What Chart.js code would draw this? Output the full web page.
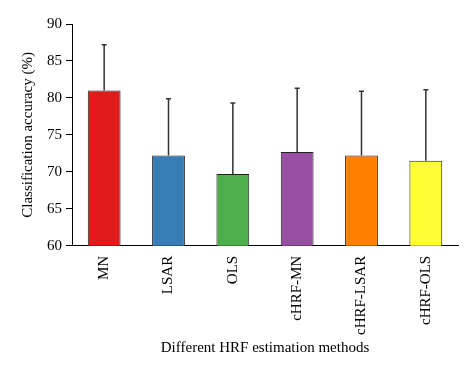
<!DOCTYPE html>
<html>
<head>
<meta charset="utf-8">
<script src="https://cdn.jsdelivr.net/npm/chart.js@4/dist/chart.umd.min.js"></script>
<style>
  html, body { margin: 0; padding: 0; background: #fff; }
  #wrap { width: 474px; height: 375px; }
</style>
</head>
<body>
<div id="wrap"><canvas id="chart" width="474" height="375"></canvas></div>
<script>
// Métodos de estimación HRF y precisión de clasificación (%)
const metodos = ['MN', 'LSAR', 'OLS', 'cHRF-MN', 'cHRF-LSAR', 'cHRF-OLS'];
const precision = [81.0, 72.2, 69.7, 72.7, 72.2, 71.5];
const errorSup = [6.2, 7.7, 9.6, 8.6, 8.7, 9.6];
const coloresBarras = ['#e31a1c', '#377eb8', '#4daf4a', '#984ea3', '#ff7f00', '#ffff33'];
const ticksY = [60, 65, 70, 75, 80, 85, 90];

const fuente = "'Liberation Serif', 'Times New Roman', serif";

// Plugin para dibujar las barras de error (solo hacia arriba)
const barrasError = {
    id: 'barrasError',
    afterDatasetsDraw(chart) {
        const ctx = chart.ctx;
        const yScale = chart.scales.y;
        const meta = chart.getDatasetMeta(0);
        ctx.save();
        ctx.strokeStyle = '#333';
        ctx.lineWidth = 1.5;
        meta.data.forEach((bar, i) => {
            const yBase = yScale.getPixelForValue(precision[i]);
            const yTop = yScale.getPixelForValue(precision[i] + errorSup[i]);
            ctx.beginPath();
            ctx.moveTo(bar.x, yBase);
            ctx.lineTo(bar.x, yTop);
            ctx.moveTo(bar.x - 2.5, yTop);
            ctx.lineTo(bar.x + 2.5, yTop);
            ctx.stroke();
        });
        ctx.restore();
    }
};

const ctx = document.getElementById('chart').getContext('2d');
new Chart(ctx, {
    type: 'bar',
    data: {
        labels: metodos,
        datasets: [{
            data: precision,
            backgroundColor: coloresBarras,
            borderColor: '#222',
            borderWidth: 1,
            borderSkipped: false,
            barPercentage: 0.51,
            categoryPercentage: 1.0
        }]
    },
    options: {
        responsive: false,
        animation: false,
        layout: { padding: { top: 24, right: 16, left: 15, bottom: 14 } },
        plugins: {
            legend: { display: false },
            tooltip: { enabled: false }
        },
        scales: {
            x: {
                grid: { display: false },
                border: { display: true, color: '#000', width: 1 },
                ticks: {
                    color: '#000',
                    font: { family: fuente, size: 15 },
                    minRotation: 90,
                    maxRotation: 90,
                    padding: 2
                },
                title: {
                    display: true,
                    text: 'Different HRF estimation methods',
                    color: '#000',
                    font: { family: fuente, size: 15 },
                    padding: { top: 2 }
                }
            },
            y: {
                min: 60,
                max: 90,
                afterBuildTicks: (axis) => { axis.ticks = ticksY.map(v => ({ value: v })); },
                grid: {
                    drawOnChartArea: false,
                    drawTicks: true,
                    tickLength: 6,
                    color: '#000'
                },
                border: { display: true, color: '#000', width: 1 },
                ticks: {
                    color: '#000',
                    font: { family: fuente, size: 15 },
                    padding: 4
                },
                title: {
                    display: true,
                    text: 'Classification accuracy (%)',
                    color: '#000',
                    font: { family: fuente, size: 15 },
                    padding: { bottom: 6 }
                }
            }
        }
    },
    plugins: [barrasError]
});
</script>
</body>
</html>
